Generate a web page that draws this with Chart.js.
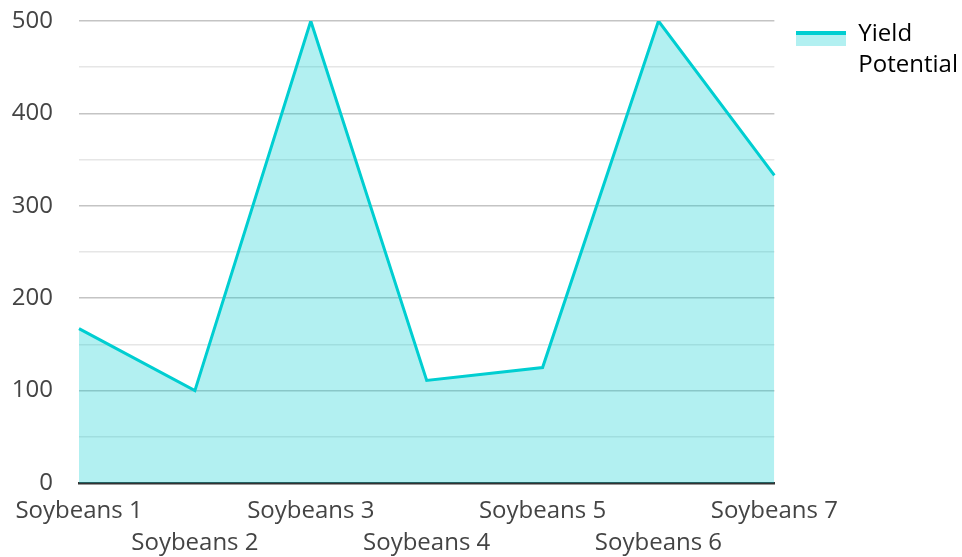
<!DOCTYPE html>
<html>
<head>
<meta charset="utf-8">
<script src="https://cdn.jsdelivr.net/npm/chart.js@4.4.1/dist/chart.umd.min.js"></script>
<style>
  html, body { margin: 0; padding: 0; background: #fff; }
  #wrap { width: 962px; height: 557px; position: relative; }
</style>
</head>
<body>
<div id="wrap"><canvas id="chart"></canvas></div>
<script>
// data
const categories = ["Soybeans 1", "Soybeans 2", "Soybeans 3", "Soybeans 4", "Soybeans 5", "Soybeans 6", "Soybeans 7"];
const yieldPotential = [167, 100, 500, 111, 125, 500, 333];
const seriesLabel = ["Yield", "Potential"];

const LINE = "#00ced1";
const FILL = "rgba(0, 206, 209, 0.3)";
const TEXT = "#444";

Chart.defaults.font.family = "'Open Sans', sans-serif";
Chart.defaults.font.size = 24;
Chart.defaults.color = TEXT;

// legend marker: thick line on top, light fill under it
function makeMarker() {
  const c = document.createElement("canvas");
  c.width = 50;
  c.height = 24;
  const g = c.getContext("2d");
  g.fillStyle = FILL;
  g.fillRect(0, 13, 50, 11);
  g.fillStyle = LINE;
  g.fillRect(0, 9, 50, 4);
  return c;
}
const marker = makeMarker();

const ctx = document.getElementById("chart").getContext("2d");
new Chart(ctx, {
  type: "line",
  data: {
    labels: categories,
    datasets: [{
      label: seriesLabel.join(" "),
      data: yieldPotential,
      borderColor: LINE,
      backgroundColor: FILL,
      borderWidth: 3,
      fill: "origin",
      tension: 0,
      pointRadius: 0,
      pointHoverRadius: 0
    }]
  },
  options: {
    responsive: true,
    maintainAspectRatio: false,
    animation: false,
    layout: { padding: { top: 0, right: -6 } },
    plugins: {
      tooltip: { enabled: false },
      legend: {
        position: "right",
        align: "start",
        labels: {
          usePointStyle: true,
          pointStyleWidth: 50,
          padding: 22,
          color: TEXT,
          font: { size: 24, lineHeight: 1.3 },
          generateLabels: () => [{
            text: seriesLabel,
            pointStyle: marker,
            fillStyle: FILL,
            strokeStyle: LINE,
            lineWidth: 0,
            hidden: false,
            datasetIndex: 0
          }]
        }
      }
    },
    scales: {
      x: {
        afterFit: (s) => { s.height = 74; },
        grid: { display: false, drawTicks: false },
        border: { display: true, color: "#333", width: 2.5 },
        ticks: {
          autoSkip: false,
          maxRotation: 0,
          padding: 12,
          font: { size: 24, lineHeight: 1.34 },
          callback: (v, i) => i % 2 ? ["", categories[i]] : categories[i]
        }
      },
      y: {
        min: 0,
        max: 500,
        afterFit: (s) => { s.width = 79; s.paddingTop = 21; },
        border: { display: false },
        grid: {
          drawTicks: false,
          lineWidth: 1.5,
          color: (c) => c.tick && c.tick.value % 100 === 0 ? "#c4c4c4" : "#e6e6e6"
        },
        ticks: {
          stepSize: 50,
          padding: 26,
          callback: (v) => v % 100 === 0 ? v : ""
        }
      }
    }
  }
});
</script>
</body>
</html>
